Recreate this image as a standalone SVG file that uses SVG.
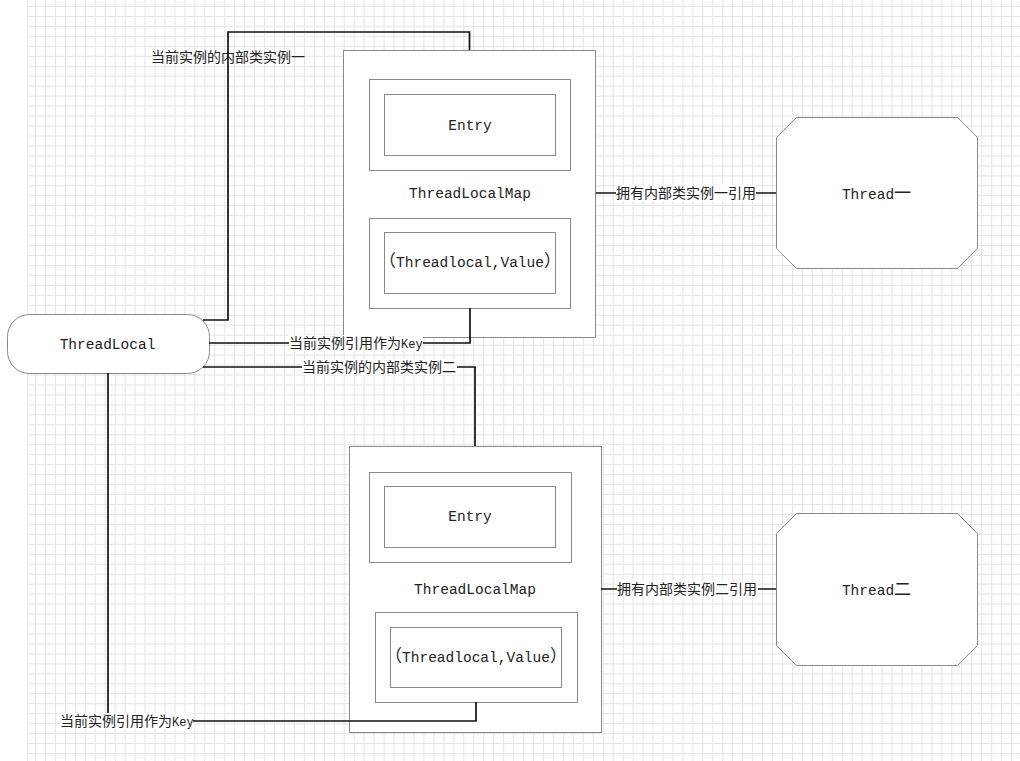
<svg xmlns="http://www.w3.org/2000/svg" width="1020" height="761" viewBox="0 0 1020 761">
  <style>
    .box { fill: #ffffff; stroke: #8a8a8a; stroke-width: 1; }
    .conn { fill: none; stroke: #111111; stroke-width: 1.7; }
    .nt { font-family: "Liberation Mono", "Noto Sans CJK SC", monospace; font-size: 14.5px; fill: #222222; text-anchor: middle; }
    .cj { font-family: "Noto Sans CJK SC", sans-serif; font-size: 17px; }
    .lb { font-family: "Noto Sans CJK SC", "Liberation Sans", sans-serif; font-size: 14px; fill: #222222; }
    .lat { font-family: "Liberation Mono", monospace; font-size: 12px; }
    .lbg { fill: #ffffff; }
  </style>
  <defs>
    <pattern id="grid" x="35" y="6" width="9.96" height="9.96" patternUnits="userSpaceOnUse">
      <path d="M0 0.5H9.96M0.5 0V9.96" stroke="#e4e4e4" stroke-width="1" fill="none"/>
    </pattern>
  </defs>
  <rect x="0" y="0" width="1020" height="761" fill="#ffffff"/>
  <rect x="27" y="0" width="993" height="761" fill="url(#grid)"/>
  <line x1="27.5" y1="0" x2="27.5" y2="761" stroke="#ececec" stroke-width="1"/>

  <g id="threadlocal">
    <rect class="box" x="7.5" y="314.5" width="202" height="59" rx="22" ry="22"/>
    <text class="nt" x="107.5" y="348.5">ThreadLocal</text>
  </g>

  <g id="map1">
    <rect class="box" x="343.5" y="50.5" width="252" height="287"/>
    <rect class="box" x="369.5" y="79.5" width="201" height="91"/>
    <rect class="box" x="384.5" y="94.5" width="171" height="61"/>
    <text class="nt" x="470" y="130">Entry</text>
    <text class="nt" x="470" y="198">ThreadLocalMap</text>
    <rect class="box" x="369.5" y="218.5" width="201" height="90"/>
    <rect class="box" x="384.5" y="232.5" width="171" height="61"/>
    <text class="nt" x="470" y="267"><tspan class="cj">（</tspan>Threadlocal,Value<tspan class="cj">）</tspan></text>
  </g>

  <g id="map2">
    <rect class="box" x="349.5" y="446.5" width="252" height="286"/>
    <rect class="box" x="369.5" y="472.5" width="202" height="90"/>
    <rect class="box" x="384.5" y="486.5" width="171" height="61"/>
    <text class="nt" x="470" y="521">Entry</text>
    <text class="nt" x="475" y="594">ThreadLocalMap</text>
    <rect class="box" x="375.5" y="612.5" width="202" height="90"/>
    <rect class="box" x="390.5" y="627.5" width="171" height="60"/>
    <text class="nt" x="476" y="662"><tspan class="cj">（</tspan>Threadlocal,Value<tspan class="cj">）</tspan></text>
  </g>

  <g id="thread1">
    <polygon class="box" points="796.5,117.5 957.5,117.5 977.5,137.5 977.5,248.5 957.5,268.5 796.5,268.5 776.5,248.5 776.5,137.5"/>
    <text class="nt" x="876.5" y="199">Thread<tspan class="cj">一</tspan></text>
  </g>

  <g id="thread2">
    <polygon class="box" points="796.5,513.5 957.5,513.5 977.5,533.5 977.5,645.5 957.5,665.5 796.5,665.5 776.5,645.5 776.5,533.5"/>
    <text class="nt" x="876.5" y="595">Thread<tspan class="cj">二</tspan></text>
  </g>

  <g id="connectors">
    <path class="conn" d="M203 320 H228 V32 H469.5 V50"/>
    <text class="lb" x="151" y="62">当前实例的内部类实例一</text>

    <path class="conn" d="M209 343 H470 V308"/>
    <rect class="lbg" x="289" y="335" width="134" height="16"/>
    <text class="lb" x="289" y="348">当前实例引用作为<tspan class="lat">Key</tspan></text>

    <path class="conn" d="M203 367 H475 V446"/>
    <rect class="lbg" x="302" y="359" width="155" height="16"/>
    <text class="lb" x="302" y="372">当前实例的内部类实例二</text>

    <path class="conn" d="M108 373 V721 H476 V702"/>
    <rect class="lbg" x="60" y="713" width="133" height="16"/>
    <text class="lb" x="60" y="726">当前实例引用作为<tspan class="lat">Key</tspan></text>

    <path class="conn" d="M596 193 H776"/>
    <rect class="lbg" x="616" y="185" width="140" height="16"/>
    <text class="lb" x="616" y="198">拥有内部类实例一引用</text>

    <path class="conn" d="M601 589 H776"/>
    <rect class="lbg" x="617" y="581" width="141" height="16"/>
    <text class="lb" x="617" y="594">拥有内部类实例二引用</text>
  </g>
</svg>
